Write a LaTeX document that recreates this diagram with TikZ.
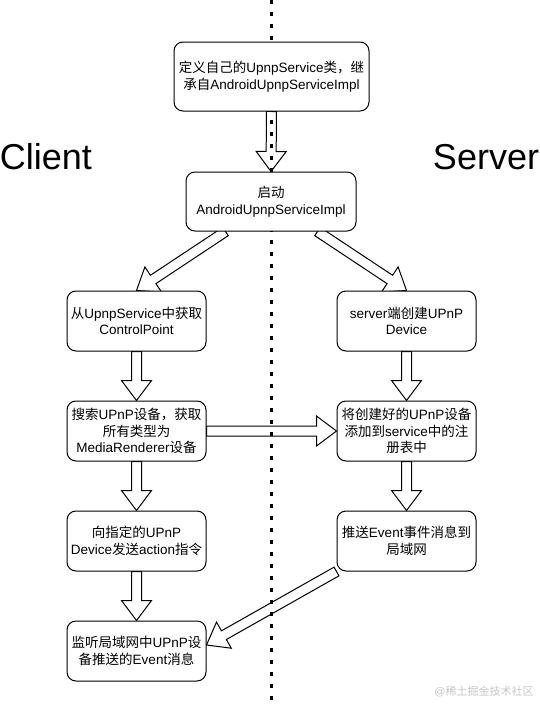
\documentclass[tikz,border=0pt]{standalone}
\usepackage{fontspec}
\setmainfont{Liberation Sans}
\newfontfamily\cjk{Noto Sans CJK SC}
\usetikzlibrary{calc}
\tikzstyle{step box} = [rectangle, rounded corners=9pt, draw=black, line width=1pt, fill=white, align=center, inner sep=2pt, font=\fontsize{13.5}{16.5}\selectfont]
\tikzstyle{wide box} = [step box, minimum width=139pt, minimum height=60pt]
\tikzstyle{flex} = [draw=black, line width=1pt, fill=white, line join=miter]
\tikzstyle{side} = [font=\fontsize{36}{40}\selectfont]
\tikzstyle{divider} = [line width=3pt, dash pattern=on 4pt off 8pt]
\newcommand{\zh}[1]{{\cjk #1}}
\newcommand{\flexarrow}[2]{
	\coordinate (fa-m) at ($(#2)!20pt!(#1)$);
	\draw[flex] ($(#1)!5pt!90:(#2)$) -- ($(fa-m)!5pt!90:(#2)$) -- ($(fa-m)!15pt!90:(#2)$) -- (#2)
		-- ($(fa-m)!15pt!-90:(#2)$) -- ($(fa-m)!5pt!-90:(#2)$) -- ($(#1)!5pt!-90:(#2)$) -- cycle;
}
\pgfdeclarelayer{arrows}
\pgfdeclarelayer{dots}
\pgfsetlayers{arrows,dots,main}

\begin{document}
\begin{tikzpicture}[x=1pt, y=-1pt]
	\useasboundingbox (0,0) rectangle (539,704);
	% boxes
	\node [step box, minimum width=195pt, minimum height=69pt] (define) at (271.5,76.5) {\zh{定义自己的}UpnpService\zh{类，继}\\\zh{承自}AndroidUpnpServiceImpl};
	\node [step box, minimum width=170pt, minimum height=59pt] (start) at (271,201.5) {\zh{启动}\\AndroidUpnpServiceImpl};
	\node [wide box] (getcp) at (136.5,321) {\zh{从}UpnpService\zh{中获取}\\ControlPoint};
	\node [wide box] (create) at (406.5,321) {server\zh{端创建}UPnP\\Device};
	\node [wide box] (search) at (136.5,431) {\zh{搜索}UPnP\zh{设备，获取}\\\zh{所有类型为}\\MediaRenderer\zh{设备}};
	\node [wide box] (add) at (406.5,431) {\zh{将创建好的}UPnP\zh{设备}\\\zh{添加到}service\zh{中的注}\\\zh{册表中}};
	\node [wide box] (send) at (136.5,541) {\zh{向指定的}UPnP\\Device\zh{发送}action\zh{指令}};
	\node [wide box] (push) at (406.5,541) {\zh{推送}Event\zh{事件消息到}\\\zh{局域网}};
	\node [wide box] (listen) at (136.5,651) {\zh{监听局域网中}UPnP\zh{设}\\\zh{备推送的}Event\zh{消息}};
	% sides
	\node [side] (client) at (46,157) {Client};
	\node [side] (server) at (486,157) {Server};
	\node [text=gray!45, font=\fontsize{11}{12}\selectfont] (mark) at (484,692) {@\zh{稀土掘金技术社区}};
	% block arrows
	\begin{pgfonlayer}{arrows}
		\coordinate (s-left) at ($(start.south west)+(40,0)$);
		\coordinate (s-right) at ($(start.south east)+(-39,0)$);
		\coordinate (e-listen) at ($(listen.east)+(0,-6)$);
		\flexarrow{define.south}{start.north}
		\flexarrow{s-left}{getcp.north}
		\flexarrow{s-right}{create.north}
		\flexarrow{getcp.south}{search.north}
		\flexarrow{create.south}{add.north}
		\flexarrow{search.east}{add.west}
		\flexarrow{search.south}{send.north}
		\flexarrow{add.south}{push.north}
		\flexarrow{send.south}{listen.north}
		\flexarrow{push.south west}{e-listen}
	\end{pgfonlayer}
	% dotted divider
	\begin{pgfonlayer}{dots}
		\coordinate (top) at (271.5,0);
		\coordinate (bottom) at (271.5,704);
		\draw[divider] (top) -- (bottom);
	\end{pgfonlayer}
\end{tikzpicture}
\end{document}
